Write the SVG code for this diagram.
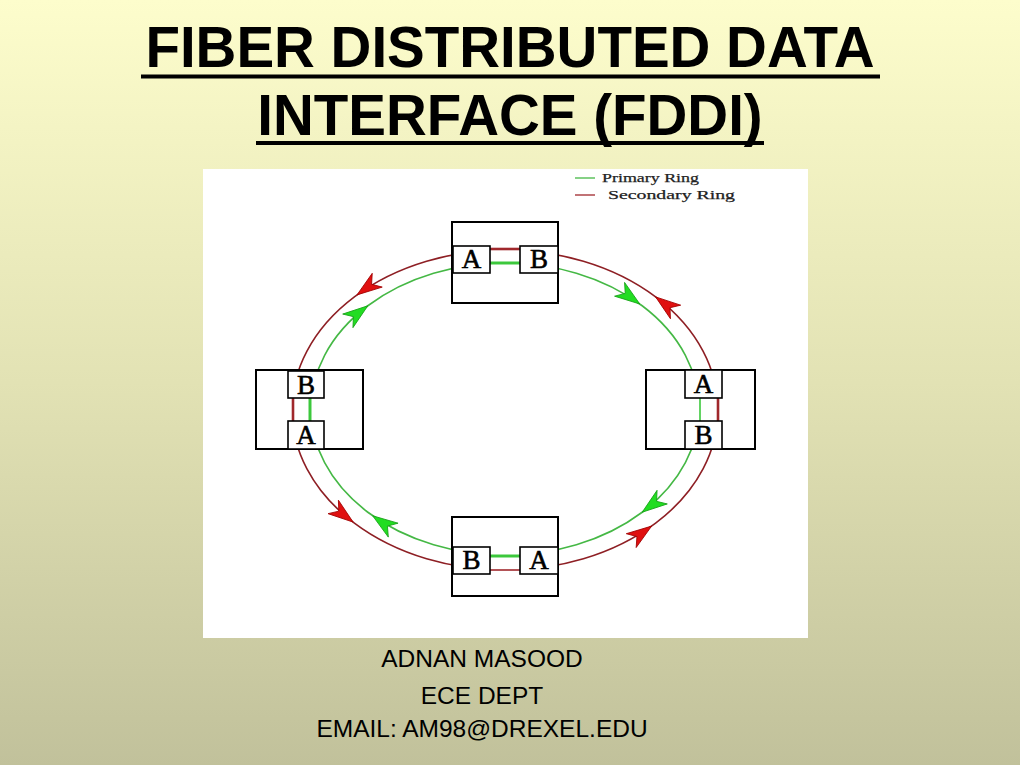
<svg xmlns="http://www.w3.org/2000/svg" xmlns:xlink="http://www.w3.org/1999/xlink" width="1020" height="765" viewBox="0 0 1020 765">
<defs>
  <linearGradient id="bg" x1="0" y1="0" x2="0" y2="1">
    <stop offset="0" stop-color="#FDFDCC"/>
    <stop offset="0.5" stop-color="#E2E2B4"/>
    <stop offset="1" stop-color="#C1C19B"/>
  </linearGradient>
  <path id="ah" d="M0,0 L-25,-8.5 L-18,0 L-25,8.5 Z"/>
</defs>
<style>
  .title{font-family:"Liberation Sans",Arial,sans-serif;font-weight:bold;font-size:56.5px;text-anchor:middle;fill:#000}
  .sub{font-family:"Liberation Sans",Arial,sans-serif;font-size:24.5px;text-anchor:middle;fill:#000}
  .legend{font-family:"Liberation Serif","Times New Roman",serif;font-size:13.5px;fill:#222;stroke:#222;stroke-width:0.25}
  .box{fill:#fff;stroke:#000;stroke-width:2}
  .port{fill:#fff;stroke:#000;stroke-width:1.6}
  .pl{font-family:"Liberation Serif","Times New Roman",serif;font-size:27px;text-anchor:middle;fill:#000;stroke:#000;stroke-width:0.6}
  .red{fill:none;stroke:#8E1F24;stroke-width:1.6}
  .green{fill:none;stroke:#45B845;stroke-width:1.6}
  .redin{fill:none;stroke:#A0282C;stroke-width:2.6}
  .greenin{fill:none;stroke:#3CC83C;stroke-width:3}
  .ahr{fill:#E01010;stroke:#A00000;stroke-width:0.8}
  .ahg{fill:#22DD22;stroke:#18A018;stroke-width:0.8}
</style>
<rect x="0" y="0" width="1020" height="765" fill="url(#bg)"/>

<g id="title">
  <text class="title" x="510" y="67">FIBER DISTRIBUTED DATA</text>
  <rect x="141" y="74.5" width="739" height="4" fill="#000"/>
  <text class="title" x="510" y="135">INTERFACE (FDDI)</text>
  <rect x="256" y="141" width="508" height="4" fill="#000"/>
</g>

<rect id="panel" x="203" y="169" width="605" height="469" fill="#fff"/>

<g id="legend">
  <line x1="575" y1="178" x2="595" y2="178" stroke="#45B845" stroke-width="1.3"/>
  <text class="legend" x="602" y="182" textLength="97" lengthAdjust="spacingAndGlyphs">Primary Ring</text>
  <line x1="575" y1="195" x2="595" y2="195" stroke="#A0282C" stroke-width="1.3"/>
  <text class="legend" x="608" y="199" textLength="127" lengthAdjust="spacingAndGlyphs">Secondary Ring</text>
</g>

<g id="connectors">
  <ellipse class="red" cx="505" cy="410" rx="213" ry="160"/>
  <ellipse class="green" cx="505" cy="409" rx="194" ry="146"/>
  <use xlink:href="#ah" href="#ah" class="ahr" transform="translate(357,294.9) rotate(144)"/>
  <use xlink:href="#ah" href="#ah" class="ahr" transform="translate(655.6,296.9) rotate(-143)"/>
  <use xlink:href="#ah" href="#ah" class="ahr" transform="translate(353.1,522.1) rotate(37.4)"/>
  <use xlink:href="#ah" href="#ah" class="ahr" transform="translate(651.6,526.1) rotate(-35.5)"/>
  <use xlink:href="#ah" href="#ah" class="ahg" transform="translate(367.8,305.8) rotate(-37)"/>
  <use xlink:href="#ah" href="#ah" class="ahg" transform="translate(639.8,304) rotate(36)"/>
  <use xlink:href="#ah" href="#ah" class="ahg" transform="translate(372.7,515.8) rotate(-145)"/>
  <use xlink:href="#ah" href="#ah" class="ahg" transform="translate(642.2,512.2) rotate(143)"/>
</g>

<g id="node-top">
  <rect class="box" x="452" y="222" width="106" height="81"/>
  <line class="redin" x1="490" y1="249" x2="520" y2="249"/>
  <line class="greenin" x1="490" y1="263" x2="520" y2="263"/>
  <rect class="port" x="453" y="246" width="37" height="27"/>
  <rect class="port" x="520" y="246" width="38" height="27"/>
  <text class="pl" x="471.5" y="268">A</text>
  <text class="pl" x="539" y="268">B</text>
</g>

<g id="node-left">
  <rect class="box" x="256" y="370" width="107" height="79"/>
  <line class="redin" x1="293" y1="398" x2="293" y2="421"/>
  <line class="greenin" x1="310" y1="398" x2="310" y2="421"/>
  <rect class="port" x="288" y="371" width="36" height="27"/>
  <rect class="port" x="288" y="421" width="36" height="28"/>
  <text class="pl" x="306" y="394">B</text>
  <text class="pl" x="306" y="444">A</text>
</g>

<g id="node-right">
  <rect class="box" x="646" y="370" width="109" height="79"/>
  <line class="greenin" x1="700" y1="398" x2="700" y2="421" style="stroke-width:1.6"/>
  <line class="redin" x1="718" y1="398" x2="718" y2="421"/>
  <rect class="port" x="685" y="370" width="37" height="28"/>
  <rect class="port" x="685" y="421" width="37" height="28"/>
  <text class="pl" x="703.5" y="393">A</text>
  <text class="pl" x="703.5" y="444">B</text>
</g>

<g id="node-bottom">
  <rect class="box" x="452" y="517" width="106" height="79"/>
  <line class="greenin" x1="490" y1="556" x2="520" y2="556"/>
  <line class="redin" x1="490" y1="570" x2="520" y2="570" style="stroke-width:1.6"/>
  <rect class="port" x="453" y="547" width="37" height="27"/>
  <rect class="port" x="520" y="547" width="38" height="27"/>
  <text class="pl" x="471.5" y="569">B</text>
  <text class="pl" x="539" y="569">A</text>
</g>

<g id="footer">
  <text class="sub" x="482" y="667">ADNAN MASOOD</text>
  <text class="sub" x="482" y="704">ECE DEPT</text>
  <text class="sub" x="482" y="737">EMAIL: AM98@DREXEL.EDU</text>
</g>
</svg>
